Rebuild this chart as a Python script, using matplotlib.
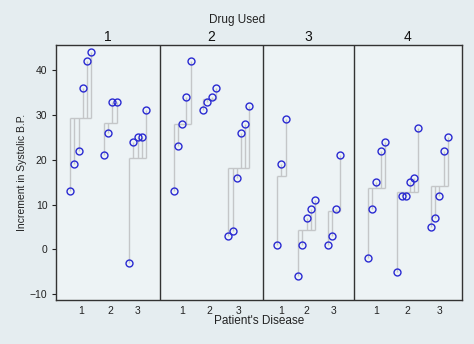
import numpy as np
import matplotlib.pyplot as plt

plt.rcParams['font.family'] = ['Liberation Sans', 'DejaVu Sans']

# Increment in systolic B.P. by drug (panel) and patient's disease (group)
drugs = ['1', '2', '3', '4']
diseases = ['1', '2', '3']
drug1 = [[13, 19, 22, 36, 42, 44], [21, 26, 33, 33], [-3, 24, 25, 25, 31]]
drug2 = [[13, 23, 28, 34, 42], [31, 33, 34, 36], [3, 4, 16, 26, 28, 32]]
drug3 = [[1, 19, 29], [-6, 1, 7, 9, 11], [1, 3, 9, 21]]
drug4 = [[-2, 9, 15, 22, 24], [-5, 12, 12, 15, 16, 27], [5, 7, 12, 22, 25]]
data = [drug1, drug2, drug3, drug4]

bg = '#e5edf0'
panel_bg = '#edf3f5'
line_c = '#c4c6c8'
dot_c = '#2a2ad2'

fig = plt.figure(figsize=(4.74, 3.44), dpi=100, facecolor=bg)
ax = fig.add_axes([0.119, 0.128, 0.855, 0.741])
ax.set_facecolor(panel_bg)

margin = 3.3
gap = 3
pos = 0.0
dividers = []
panel_centers = []
tick_pos = []
tick_lab = []
for d, groups in zip(drugs, data):
    left = pos
    x = left + margin
    for lab, vals in zip(diseases, groups):
        vals = np.array(vals)
        xs = x + np.arange(len(vals))
        m = vals.mean()
        # vertical lines from mean to each point, horizontal at mean
        ax.vlines(xs, m, vals, color=line_c, lw=1.0, zorder=1)
        ax.hlines(m, xs[0], xs[-1], color=line_c, lw=1.0, zorder=1)
        ax.plot(xs, vals, 'o', ms=5, mfc='none', mec=dot_c, mew=1.0, zorder=3)
        tick_pos.append(xs.mean())
        tick_lab.append(lab)
        last = xs[-1]
        x = last + gap
    right = last + margin
    dividers.append(right)
    panel_centers.append((left + right) / 2)
    pos = right

for xd in dividers[:-1]:
    ax.axvline(xd, color='#333333', lw=1.0, zorder=2)

ax.set_xlim(0, pos)
ax.set_ylim(-11.3, 45.6)
ax.set_yticks([-10, 0, 10, 20, 30, 40])
ax.set_xticks(tick_pos)
ax.set_xticklabels(tick_lab)
ax.tick_params(axis='y', direction='out', length=3, labelsize=7.5, colors='#222222', width=0.8)
ax.tick_params(axis='x', length=0, labelsize=7.5, colors='#222222', pad=4.5)
for s in ax.spines.values():
    s.set_color('#333333')
    s.set_linewidth(1.0)

for xc, d in zip(panel_centers, drugs):
    ax.text(xc, 1.005, d, transform=ax.get_xaxis_transform(), ha='center', va='bottom',
            fontsize=10, color='#111111')
fig.text(0.5, 0.942, 'Drug Used', ha='center', va='center', fontsize=8.5, color='#222222')
ax.set_xlabel("Patient's Disease", fontsize=8.5, labelpad=-1, color='#222222')
ax.set_ylabel('Increment in Systolic B.P.', fontsize=7.5, labelpad=2, color='#222222')

fig.savefig('out.png', dpi=100, facecolor=bg)
